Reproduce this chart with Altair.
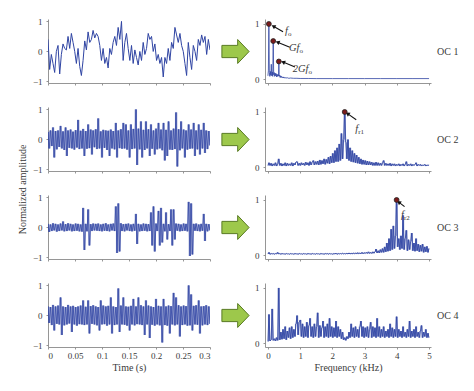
import math
import altair as alt
import numpy as np
import pandas as pd

# ---------------- data ----------------
case_labels = ["OC 1", "OC 2", "OC 3", "OC 4"]
time_ticks = [0, 0.05, 0.1, 0.15, 0.2, 0.25, 0.3]
freq_ticks = [0, 1, 2, 3, 4, 5]

time_oc1 = [0.4, -0.6, -0.1, -0.4, -0.7, 0.0, 0.2, -0.75, -0.1, 0.25,
            0.1, 0.05, 0.5, 0.1, 0.6, 0.3, 0.0, -0.4, 0.1, -0.5,
            -0.8, -0.3, 0.35, 0.05, 0.65, 0.3, 0.4, 0.7, 0.45, 0.6,
            0.5, 0.2, -0.3, 0.1, -0.4, -0.2, -0.55, 0.1, -0.1, 0.3,
            0.5, 0.2, 0.8, 0.4, 1.0, -0.3, 0.3, 0.6, 0.1, -0.3,
            0.2, -0.4, 0.05, -0.2, -0.45, 0.0, -0.3, 0.3, -0.1, 0.1,
            0.6, 0.4, 0.5, 0.0, 0.25, -0.3, -0.1, -0.4, -0.2, -0.85,
            -0.2, -0.4, 0.1, -0.3, 0.3, 0.1, 0.8, 0.55, 0.3, 0.6,
            0.2, 0.0, -0.4, -0.8, 0.3, -0.2, -0.6, 0.2, 0.0, -0.3,
            0.4, 0.2, 0.55, 0.3, 0.5, -0.1, 0.4, 0.05]

time_oc2 = [0.25, -0.3, 0.3, -0.22, 0.4, -0.6, 0.28, -0.33, 0.3, -0.25,
            0.45, -0.3, 0.27, -0.35, 0.4, -0.55, 0.3, -0.28, 0.33, -0.3,
            0.26, -0.34, 0.31, -0.27, 0.65, -0.32, 0.29, -0.3, 0.35, -0.55,
            0.28, -0.31, 0.5, -0.29, 0.33, -0.5, 0.3, -0.26, 0.34, -0.32,
            0.7, -0.3, 0.27, -0.6, 0.32, -0.28, 0.3, -0.35, 0.29, -0.55,
            0.33, -0.3, 0.28, -0.33, 0.55, -0.6, 0.3, -0.29, 0.34, -0.31,
            0.55, -0.3, 0.5, -0.34, 0.3, -0.6, 0.5, -0.32, 0.35, -0.3,
            1.0, -0.85, 0.36, -0.33, 0.6, -0.6, 0.32, -0.35, 0.6, -0.3,
            0.34, -0.55, 0.5, -0.31, 0.3, -0.5, 0.36, -0.33, 0.55, -0.3,
            0.33, -0.36, 0.55, -0.7, 0.32, -0.55, 0.6, -0.34, 0.3, -0.35,
            0.36, -0.32, 0.9, -0.9, 0.34, -0.36, 0.6, -0.3, 0.33, -0.6,
            0.3, -0.34, 0.5, -0.31, 0.33, -0.3, 0.55, -0.55, 0.3, -0.33,
            0.5, -0.5, 0.32, -0.3, 0.55, -0.45, 0.3, -0.32, 0.28, -0.2]

time_oc3 = [0.12, -0.15, 0.1, -0.12, 0.14, -0.1, 0.12, -0.14, 0.1, -0.12,
            0.13, -0.1, 0.2, -0.13, 0.11, -0.12, 0.14, -0.1, 0.12, -0.13,
            0.1, -0.12, 0.13, -0.11, 0.12, -0.13, 0.1, -0.14, 0.65, -0.75,
            0.12, -0.13, 0.6, -0.6, 0.11, -0.12, 0.13, -0.1, 0.12, -0.11,
            0.13, -0.12, 0.1, -0.13, 0.12, -0.11, 0.14, -0.12, 0.1, -0.13,
            0.12, -0.1, 0.13, -0.12, 0.7, -0.85, 0.8, -0.8, 0.14, -0.12,
            0.11, -0.13, 0.12, -0.1, 0.13, -0.12, 0.1, -0.13, 0.12, -0.11,
            0.45, -0.55, 0.12, -0.13, 0.1, -0.12, 0.13, -0.11, 0.12, -0.13,
            0.11, -0.12, 0.5, -0.6, 0.7, -0.8, 0.13, -0.12, 0.55, -0.6,
            0.65, -0.5, 0.12, -0.13, 0.5, -0.4, 0.11, -0.12, 0.6, -0.6,
            0.6, -0.4, 0.13, -0.11, 0.12, -0.13, 0.1, -0.12, 0.13, -0.11,
            0.12, -0.13, 0.85, -0.95, 0.8, -0.9, 0.12, -0.11, 0.13, -0.12,
            0.1, -0.13, 0.12, -0.11, 0.45, -0.45, 0.12, -0.13, 0.11, -0.1]

time_oc4 = [0.3, -0.25, 0.28, -0.32, 0.35, -0.5, 0.3, -0.28, 0.33, -0.3,
            0.6, -0.65, 0.3, -0.33, 0.28, -0.3, 0.35, -0.27, 0.3, -0.55,
            0.32, -0.3, 0.28, -0.34, 0.3, -0.29, 0.33, -0.3, 0.5, -0.32,
            0.29, -0.3, 0.5, -0.6, 0.31, -0.28, 0.34, -0.3, 0.3, -0.33,
            0.28, -0.5, 0.5, -0.3, 0.33, -0.29, 0.3, -0.34, 0.32, -0.3,
            0.6, -0.6, 0.3, -0.32, 0.28, -0.3, 0.9, -0.55, 0.33, -0.3,
            0.6, -0.31, 0.3, -0.34, 0.29, -0.5, 0.32, -0.3, 0.55, -0.33,
            0.3, -0.29, 0.6, -0.3, 0.34, -0.32, 0.3, -0.65, 0.5, -0.3,
            0.33, -0.75, 0.3, -0.31, 0.28, -0.34, 0.55, -0.3, 0.32, -0.33,
            0.3, -0.9, 0.55, -0.32, 0.3, -0.34, 0.33, -0.6, 0.31, -0.3,
            0.75, -0.33, 0.6, -0.3, 0.34, -0.7, 0.3, -0.32, 0.33, -0.3,
            0.31, -0.34, 1.0, -0.33, 0.7, -0.5, 0.32, -0.3, 0.34, -0.31,
            0.5, -0.6, 0.3, -0.33, 0.31, -0.3, 0.34, -0.32, 0.3, -0.28]

spec_oc1_freq = [0.0, 0.015, 0.03, 0.045, 0.06, 0.075, 0.09, 0.105, 0.12, 0.135,
                 0.15, 0.165, 0.18, 0.195, 0.21, 0.225, 0.24, 0.255, 0.27, 0.285,
                 0.3, 0.315, 0.33, 0.34, 0.35, 0.365, 0.38, 0.395, 0.41, 0.425,
                 0.44, 0.455, 0.47, 0.485, 0.5, 0.53, 0.56, 0.6, 0.65, 0.7,
                 0.8, 0.9, 1.0, 1.25, 1.5, 2.0, 2.5, 3.0, 3.5, 4.0,
                 4.5, 5.0]
spec_oc1_amp = [0.06, 0.15, 1.0, 0.12, 0.05, 0.14, 0.07, 0.27, 0.06, 0.13,
                0.05, 0.69, 0.08, 0.12, 0.05, 0.11, 0.06, 0.1, 0.04, 0.09,
                0.05, 0.08, 0.06, 0.32, 0.05, 0.07, 0.03, 0.06, 0.03, 0.05,
                0.03, 0.04, 0.02, 0.04, 0.02, 0.03, 0.02, 0.025, 0.015, 0.02,
                0.015, 0.015, 0.012, 0.012, 0.01, 0.01, 0.01, 0.01, 0.01, 0.01,
                0.01, 0.01]

spec_oc2 = [0.03, 0.08, 0.03, 0.07, 0.02, 0.06, 0.03, 0.08, 0.02, 0.06,
            0.15, 0.03, 0.07, 0.02, 0.06, 0.03, 0.08, 0.02, 0.07, 0.03,
            0.06, 0.03, 0.08, 0.02, 0.07, 0.04, 0.09, 0.1, 0.03, 0.07,
            0.03, 0.08, 0.04, 0.07, 0.03, 0.09, 0.04, 0.08, 0.03, 0.1,
            0.04, 0.09, 0.12, 0.04, 0.1, 0.05, 0.11, 0.04, 0.13, 0.05,
            0.12, 0.06, 0.15, 0.05, 0.14, 0.07, 0.18, 0.06, 0.2, 0.08,
            0.25, 0.08, 0.3, 0.1, 0.35, 0.1, 0.42, 0.12, 0.61, 0.15,
            0.5, 1.0, 0.45, 0.15, 0.5, 0.12, 0.35, 0.1, 0.3, 0.09,
            0.25, 0.08, 0.22, 0.07, 0.18, 0.06, 0.15, 0.05, 0.13, 0.05,
            0.12, 0.04, 0.11, 0.04, 0.1, 0.04, 0.09, 0.03, 0.08, 0.03,
            0.09, 0.03, 0.08, 0.03, 0.07, 0.03, 0.08, 0.12, 0.03, 0.07,
            0.03, 0.06, 0.03, 0.07, 0.02, 0.06, 0.03, 0.06, 0.02, 0.05,
            0.03, 0.06, 0.02, 0.05, 0.03, 0.06, 0.02, 0.05, 0.1, 0.02,
            0.05, 0.03, 0.06, 0.02, 0.05, 0.03, 0.05, 0.08, 0.02, 0.05,
            0.03, 0.05, 0.02, 0.04, 0.03, 0.05, 0.02, 0.04, 0.03, 0.04]

spec_oc3 = [0.02, 0.05, 0.015, 0.03, 0.02, 0.03, 0.015, 0.03, 0.02, 0.05,
            0.02, 0.03, 0.015, 0.03, 0.02, 0.025, 0.015, 0.03, 0.02, 0.025,
            0.015, 0.03, 0.02, 0.025, 0.015, 0.03, 0.02, 0.025, 0.015, 0.03,
            0.02, 0.025, 0.015, 0.03, 0.02, 0.025, 0.015, 0.03, 0.02, 0.025,
            0.015, 0.03, 0.02, 0.025, 0.015, 0.03, 0.02, 0.025, 0.015, 0.03,
            0.02, 0.025, 0.015, 0.03, 0.02, 0.03, 0.015, 0.03, 0.02, 0.025,
            0.015, 0.03, 0.02, 0.035, 0.015, 0.03, 0.02, 0.03, 0.02, 0.035,
            0.02, 0.03, 0.02, 0.035, 0.02, 0.04, 0.02, 0.035, 0.02, 0.04,
            0.025, 0.04, 0.02, 0.045, 0.025, 0.04, 0.025, 0.05, 0.025, 0.045,
            0.03, 0.05, 0.03, 0.06, 0.03, 0.05, 0.03, 0.06, 0.035, 0.06,
            0.11, 0.04, 0.08, 0.04, 0.1, 0.05, 0.12, 0.05, 0.15, 0.06,
            0.22, 0.07, 0.3, 0.08, 0.47, 0.1, 0.53, 0.12, 0.35, 1.0,
            0.15, 0.3, 0.1, 0.35, 0.12, 0.72, 0.1, 0.3, 0.45, 0.08,
            0.28, 0.1, 0.25, 0.4, 0.08, 0.22, 0.07, 0.3, 0.08, 0.2,
            0.06, 0.18, 0.07, 0.2, 0.05, 0.15, 0.06, 0.16, 0.05, 0.12]

spec_oc4 = [0.03, 0.52, 0.04, 0.06, 0.62, 0.05, 0.08, 0.04, 0.1, 0.05,
            1.0, 0.06, 0.2, 0.07, 0.25, 0.08, 0.3, 0.06, 0.22, 0.1,
            0.28, 0.08, 0.3, 0.1, 0.25, 0.12, 0.35, 0.5, 0.15, 0.38,
            0.42, 0.12, 0.35, 0.1, 0.3, 0.12, 0.38, 0.1, 0.32, 0.45,
            0.12, 0.3, 0.1, 0.35, 0.12, 0.3, 0.55, 0.1, 0.32, 0.12,
            0.28, 0.4, 0.1, 0.3, 0.12, 0.35, 0.1, 0.45, 0.12, 0.3,
            0.1, 0.28, 0.12, 0.4, 0.1, 0.3, 0.12, 0.25, 0.08, 0.2,
            0.06, 0.1, 0.05, 0.12, 0.08, 0.2, 0.1, 0.35, 0.12, 0.28,
            0.1, 0.3, 0.12, 0.25, 0.1, 0.3, 0.4, 0.12, 0.3, 0.1,
            0.28, 0.12, 0.3, 0.1, 0.25, 0.38, 0.1, 0.3, 0.12, 0.28,
            0.1, 0.45, 0.12, 0.3, 0.1, 0.25, 0.12, 0.3, 0.1, 0.22,
            0.12, 0.25, 0.1, 0.35, 0.12, 0.28, 0.1, 0.25, 0.12, 0.48,
            0.1, 0.25, 0.12, 0.22, 0.1, 0.3, 0.12, 0.2, 0.1, 0.25,
            0.12, 0.4, 0.1, 0.22, 0.12, 0.25, 0.1, 0.3, 0.12, 0.2,
            0.1, 0.22, 0.32, 0.1, 0.2, 0.12, 0.25, 0.1, 0.18, 0.1]

# annotated peaks: (freq, amp)
peak_points = {
    0: [(0.03, 1.0), (0.165, 0.69), (0.34, 0.32)],
    1: [(2.383, 1.0)],
    2: [(3.993, 1.0)],
}
# labels: (main, subscript, anchor freq, anchor amp)
peak_labels = {
    0: [("f", "o", 0.62, 0.87), ("Gf", "o", 0.98, 0.56), ("2Gf", "o", 1.26, 0.18)],
    1: [("f", "r1", 2.8, 0.69)],
    2: [("f", "r2", 4.22, 0.73)],
}
# pointer arrows: (tail freq, tail amp, head freq, head amp)
peak_arrows = {
    0: [(0.47, 0.86, 0.17, 0.96), (0.68, 0.58, 0.3, 0.67), (0.84, 0.22, 0.47, 0.31)],
    1: [(2.74, 0.86, 2.47, 0.97)],
    2: [(4.24, 0.88, 4.06, 0.96)],
}

# ---------------- style ----------------
BLUE = "#2f44a3"
FONT = "Liberation Serif"
AXC = "#8a8a8a"
TXT = "#3a3a3a"
W_L, W_A, W_R, W_O, H = 162, 55, 166, 30, 64
T_DOM = [0, 0.3]
V_DOM = [-1.05, 1.08]
F_DOM = [-0.09, 5.06]
A_DOM = [-0.07, 1.09]
ARROW_PATH = "M-1,-0.45L0.16,-0.45L0.16,-0.88L1,0L0.16,0.88L0.16,0.45L-1,0.45Z"


def ax(**kw):
    base = dict(grid=False, domainColor=AXC, tickColor=AXC, tickSize=2,
                domainWidth=0.9, tickWidth=0.9, labelFont=FONT, labelFontSize=9,
                labelColor=TXT, labelPadding=2, titleFont=FONT, titleFontSize=10,
                titleFontWeight="normal", titleColor=TXT)
    base.update(kw)
    return alt.Axis(**base)


def dense_layers(xs, ys, xenc, yenc, line_w, with_rules):
    df = pd.DataFrame({"x": xs, "y": ys})
    layers = []
    if with_rules:
        seg = pd.DataFrame({"xm": (df["x"].values[:-1] + df["x"].values[1:]) / 2,
                            "y1": df["y"].values[:-1], "y2": df["y"].values[1:]})
        layers.append(alt.Chart(seg).mark_rule(color=BLUE, strokeWidth=0.85, opacity=0.85,
                                               clip=True).encode(
            x=xenc("xm:Q"), y=yenc("y1:Q"), y2="y2:Q"))
    layers.append(alt.Chart(df).mark_line(color=BLUE, strokeWidth=line_w, clip=True).encode(
        x=xenc("x:Q"), y=yenc("y:Q")))
    return layers


def time_panel(vals, row):
    n = len(vals)
    bottom = row == 3
    xa = ax(values=time_ticks, format="~g", labels=bottom,
            title="Time (s)" if bottom else "", titlePadding=2)
    yk = dict(values=[-1, 0, 1], format="~g", title="", labelPadding=4)
    if row == 1:
        yk.update(title="Normalized amplitude", titleX=-23, titleY=82,
                  titleAngle=270, titleAlign="center", titleBaseline="alphabetic")
    ya = ax(**yk)

    def xenc(f):
        return alt.X(f, scale=alt.Scale(domain=T_DOM, nice=False, zero=False), axis=xa)

    def yenc(f):
        return alt.Y(f, scale=alt.Scale(domain=V_DOM, nice=False, zero=False), axis=ya)

    layers = dense_layers(np.linspace(0, 0.3, n), vals, xenc, yenc,
                          1.0 if row == 0 else 0.7, row != 0)
    return alt.layer(*layers).properties(width=W_L, height=H)


def spec_panel(freq, amp, row):
    bottom = row == 3
    xa = ax(values=freq_ticks, format="~g", labels=bottom,
            title="Frequency (kHz)" if bottom else "", titlePadding=2)
    ya = ax(values=[0, 1], format="~g", title="", labelPadding=4)

    def fx(f):
        return alt.X(f, scale=alt.Scale(domain=F_DOM, nice=False, zero=False), axis=xa)

    def fy(f):
        return alt.Y(f, scale=alt.Scale(domain=A_DOM, nice=False, zero=False), axis=ya)

    layers = dense_layers(freq, amp, fx, fy, 0.8, row != 0)
    if row in peak_points:
        px_f = W_R / (F_DOM[1] - F_DOM[0])
        px_a = H / (A_DOM[1] - A_DOM[0])
        arr = pd.DataFrame(peak_arrows[row], columns=["f1", "a1", "f2", "a2"])
        layers.append(alt.Chart(arr).mark_rule(color="#111", strokeWidth=1.1).encode(
            x=fx("f1:Q"), y=fy("a1:Q"), x2="f2:Q", y2="a2:Q"))
        for (f1, a1, f2, a2) in peak_arrows[row]:
            dx = (f2 - f1) * px_f
            dy = -(a2 - a1) * px_a
            ang = math.degrees(math.atan2(dx, -dy)) % 360
            layers.append(alt.Chart(pd.DataFrame({"f": [f2], "a": [a2]})).mark_point(
                shape="triangle-up", filled=True, color="#111", size=22, angle=ang,
                opacity=1).encode(x=fx("f:Q"), y=fy("a:Q")))
        pk = pd.DataFrame(peak_points[row], columns=["f", "a"])
        layers.append(alt.Chart(pk).mark_point(
            filled=True, fill="#7a1a1a", stroke="#222", strokeWidth=0.8, size=24,
            opacity=1).encode(x=fx("f:Q"), y=fy("a:Q")))
        lb = pd.DataFrame(peak_labels[row], columns=["main", "sub", "f", "a"])
        layers.append(alt.Chart(lb).mark_text(
            align="right", baseline="middle", font=FONT, fontSize=10.5,
            fontStyle="italic", color=TXT).encode(x=fx("f:Q"), y=fy("a:Q"), text="main:N"))
        layers.append(alt.Chart(lb).mark_text(
            align="left", baseline="middle", font=FONT, fontSize=7, dy=3,
            color=TXT).encode(x=fx("f:Q"), y=fy("a:Q"), text="sub:N"))
    return alt.layer(*layers).properties(width=W_R, height=H)


def arrow_panel():
    return alt.Chart(pd.DataFrame({"k": [0]})).mark_point(
        shape=ARROW_PATH, size=740, filled=True, fill="#9dc84b", stroke="#587a22",
        strokeWidth=1, opacity=1).encode(
        x=alt.value(25.5), y=alt.value(32.5)).properties(width=W_A, height=H)


def oc_panel(label):
    return alt.Chart(pd.DataFrame({"lab": [label]})).mark_text(
        align="left", baseline="middle", font=FONT, fontSize=10, color=TXT).encode(
        x=alt.value(6), y=alt.value(32.5), text="lab:N").properties(width=W_O, height=H)


time_sets = [time_oc1, time_oc2, time_oc3, time_oc4]
spec_sets = [(spec_oc1_freq, spec_oc1_amp),
             (list(np.linspace(0, 5, len(spec_oc2))), spec_oc2),
             (list(np.linspace(0, 5, len(spec_oc3))), spec_oc3),
             (list(np.linspace(0, 5, len(spec_oc4))), spec_oc4)]

panels = []
for r in range(4):
    panels += [time_panel(time_sets[r], r), arrow_panel(),
               spec_panel(spec_sets[r][0], spec_sets[r][1], r), oc_panel(case_labels[r])]

chart = alt.concat(*panels, columns=4, spacing={"row": 24, "column": 0},
                   bounds="flush").properties(
    padding={"left": 8, "top": 8, "right": 2, "bottom": 2}
).configure_view(stroke="transparent")

chart.save("out.html", embed_options={"renderer": "svg", "actions": False})
